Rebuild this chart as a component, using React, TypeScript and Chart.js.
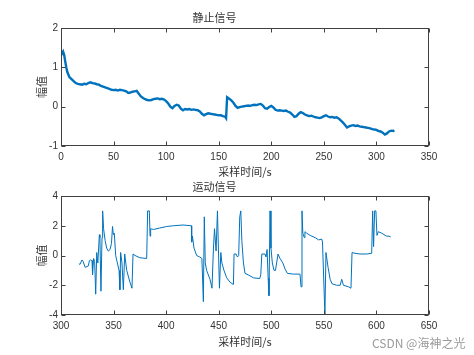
import React, { useEffect, useRef } from "react";
import { Chart, registerables } from "chart.js";

Chart.register(...registerables);

// ---------- data ----------
const staticX = [0,1,2,3,4,5,6,8,10,12,14,16,18,20,22,24,26,28,30,32,34,36,38,40,42,44,46,48,50,52,54,56,58,60,62,64,66,68,70,72,74,76,78,80,82,84,86,88,90,92,94,96,98,100,102,104,106,108,110,112,114,116,118,120,122,124,126,128,130,132,134,136,138,140,142,144,146,148,150,152,154,156,157,158,160,162,164,166,168,170,172,174,176,178,180,182,184,186,188,190,192,194,196,198,200,202,204,206,208,210,212,214,216,218,220,222,224,226,228,230,232,234,236,238,240,242,244,246,248,250,252,254,256,258,260,262,264,266,268,270,272,274,276,278,280,282,284,286,288,290,292,294,296,298,300,302,304,306,308,310,312,314,316,317];
const staticY = [1.30,1.35,1.40,1.32,1.15,1.00,0.88,0.75,0.70,0.65,0.60,0.58,0.57,0.56,0.58,0.57,0.60,0.62,0.60,0.59,0.57,0.56,0.53,0.51,0.49,0.47,0.45,0.43,0.42,0.43,0.41,0.43,0.42,0.41,0.39,0.35,0.36,0.38,0.39,0.40,0.33,0.26,0.22,0.19,0.17,0.16,0.17,0.19,0.20,0.21,0.19,0.20,0.18,0.14,0.08,0.00,-0.04,0.02,0.05,0.03,-0.05,-0.09,-0.06,-0.07,-0.06,-0.08,-0.07,-0.08,-0.09,-0.12,-0.18,-0.22,-0.19,-0.17,-0.18,-0.19,-0.20,-0.21,-0.22,-0.22,-0.24,-0.25,-0.29,0.24,0.20,0.16,0.10,0.02,-0.03,-0.01,0.00,0.01,0.02,0.03,0.02,0.04,0.05,0.04,0.06,0.07,0.03,-0.04,-0.05,-0.01,0.02,-0.02,-0.08,-0.10,-0.09,-0.10,-0.11,-0.10,-0.13,-0.15,-0.20,-0.26,-0.24,-0.18,-0.14,-0.16,-0.20,-0.22,-0.24,-0.23,-0.25,-0.27,-0.28,-0.29,-0.27,-0.24,-0.22,-0.25,-0.27,-0.26,-0.28,-0.27,-0.30,-0.35,-0.40,-0.46,-0.53,-0.50,-0.48,-0.47,-0.49,-0.48,-0.50,-0.51,-0.52,-0.53,-0.54,-0.55,-0.57,-0.58,-0.59,-0.62,-0.63,-0.66,-0.71,-0.68,-0.63,-0.61,-0.62,-0.60];

const motionX = [317,318,320,321,323,326,327,328,329.5,330,331,332,333,334,335,336.5,337,338,339,339.6,340.5,342,343.4,345,346.6,348,349,349.8,350.7,352,353.6,355.2,356,356.7,358,359.3,360.6,362.5,365.6,367.5,368.5,370.4,375,381.5,382.4,384,384.7,385.3,388,394,400.5,406.8,416,424,424.3,425,426.5,429,432,434,435.4,436.3,437.2,438.5,441.7,443.6,445,446,447.5,448.8,449.7,450.7,452,453,455,457.6,460.8,464,464.6,466.5,467.8,469,470,471,472,473.5,475,478,483,489,490,491,494,495,496,497,497.8,498.8,499.7,501,502.6,504,506.4,508.3,511,513,515.3,521,527.3,528.3,529.2,530,531.4,532,533.7,537,541.7,545,548,548.7,551,552,554,556,557.8,562,565.5,567,568.6,573.3,575.8,576.8,579.6,584.4,590.7,595.5,596.4,597.3,598.3,599.5,600.5,601.8,605,609.7,612,613.6];
const motionY = [-0.55,-0.6,-0.3,-0.4,-0.8,-0.7,-0.35,-0.3,-0.35,-1.3,-0.2,-0.4,-2.6,0.2,-0.5,1.4,1.2,-2.4,1.2,3.0,1.8,1.0,0.5,0.3,0.4,0.8,1.95,1.4,1.5,0.0,-0.5,-1.0,-2.3,0.2,-0.5,-2.3,0.1,-1.0,-1.8,-2.2,0.1,0.0,-0.15,-0.2,3.0,3.0,1.3,1.8,1.75,1.85,1.95,2.0,2.05,2.0,0.9,1.3,0.5,0.0,-0.1,-0.2,-3.1,2.6,-0.5,-1.0,-1.6,-2.2,0.5,1.8,0.3,3.0,0.5,-2.2,0.2,-0.5,-1.0,-1.5,-1.8,-1.95,0.1,0.1,-0.1,0.0,2.6,3.0,1.0,-0.5,-1.2,-1.3,-1.5,-1.55,-1.3,0.1,0.1,-0.1,0.4,-1.5,-2.7,3.0,0.5,-0.5,-1.0,-1.0,0.1,-0.2,-0.5,-0.9,-1.2,-1.25,-1.25,-2.1,3.0,1.5,1.2,1.6,1.5,1.35,1.2,1.05,1.1,0.9,-4.0,0.2,-0.8,-1.6,-1.9,-2.0,-2.0,-1.6,-2.0,-2.1,-2.2,0.2,0.15,0.1,0.1,0.15,3.0,0.6,3.0,3.0,1.35,1.6,1.5,1.3,1.3,1.25];

const staticTitle = "静止信号";
const motionTitle = "运动信号";
const xTitle = "采样时间/s";
const yTitle = "幅值";
const watermark = "CSDN @海神之光";

// ---------- styling ----------
const LINE_COLOR = "#0072BD";
const TEXT_COLOR = "#333333";
const AXIS_COLOR = "#404040";
const TICK_FONT = { family: "'Liberation Sans', Arial, sans-serif", size: 10 };
const CJK_FONT = { family: "'Noto Sans CJK SC', sans-serif", size: 11, weight: "normal" as const };

const matlabBox = {
  id: "matlabBox",
  afterDraw(chart: any) {
    const { ctx, chartArea: a, scales } = chart;
    ctx.save();
    ctx.strokeStyle = AXIS_COLOR;
    ctx.lineWidth = 1;
    const l = Math.round(a.left) + 0.5;
    const r = Math.round(a.right) - 0.5;
    const t = Math.round(a.top) + 0.5;
    const b = Math.round(a.bottom) - 0.5;
    ctx.strokeRect(l, t, r - l, b - t);
    const tl = 4;
    ctx.beginPath();
    scales.x.ticks.forEach((tk: any) => {
      const p = Math.round(scales.x.getPixelForValue(tk.value)) + 0.5;
      ctx.moveTo(p, b); ctx.lineTo(p, b - tl);
      ctx.moveTo(p, t); ctx.lineTo(p, t + tl);
    });
    scales.y.ticks.forEach((tk: any) => {
      const p = Math.round(scales.y.getPixelForValue(tk.value)) + 0.5;
      ctx.moveTo(l, p); ctx.lineTo(l + tl, p);
      ctx.moveTo(r, p); ctx.lineTo(r - tl, p);
    });
    ctx.stroke();
    ctx.restore();
  },
};

function makeConfig(o: {
  xs: number[]; ys: number[]; title: string; titleTop: number; titleBottom: number;
  xMin: number; xMax: number; yMin: number; yMax: number; yStep: number;
  xAxisH: number; lineW: number;
}): any {
  return {
    type: "line",
    data: {
      datasets: [{
        data: o.xs.map((x, i) => ({ x, y: o.ys[i] })),
        borderColor: LINE_COLOR,
        borderWidth: o.lineW,
        pointRadius: 0,
        tension: 0,
        fill: false,
      }],
    },
    options: {
      animation: false,
      responsive: false,
      events: [],
      layout: { padding: { left: 0, right: 45, top: 0, bottom: 0 } },
      plugins: {
        legend: { display: false },
        tooltip: { enabled: false },
        title: {
          display: true,
          text: o.title,
          color: TEXT_COLOR,
          font: CJK_FONT,
          padding: { top: o.titleTop, bottom: o.titleBottom },
        },
      },
      scales: {
        x: {
          type: "linear",
          min: o.xMin,
          max: o.xMax,
          ticks: { stepSize: 50, color: TEXT_COLOR, font: TICK_FONT, padding: 5, maxRotation: 0 },
          grid: { display: false, drawTicks: false },
          border: { display: false },
          title: { display: true, text: xTitle, color: TEXT_COLOR, font: CJK_FONT, padding: { top: 0, bottom: 0 } },
          afterFit: (s: any) => { s.height = o.xAxisH; },
        },
        y: {
          type: "linear",
          min: o.yMin,
          max: o.yMax,
          ticks: { stepSize: o.yStep, color: TEXT_COLOR, font: TICK_FONT, padding: 3 },
          grid: { display: false, drawTicks: false },
          border: { display: false },
          title: { display: true, text: yTitle, color: TEXT_COLOR, font: CJK_FONT, padding: { top: 35, bottom: 0 } },
          afterFit: (s: any) => { s.width = 61; },
        },
      },
    },
    plugins: [matlabBox],
  };
}

export default function App() {
  const topRef = useRef<HTMLCanvasElement>(null);
  const botRef = useRef<HTMLCanvasElement>(null);

  useEffect(() => {
    const c1 = new Chart(topRef.current!, makeConfig({
      xs: staticX, ys: staticY, title: staticTitle, titleTop: 11.4, titleBottom: 3.4,
      xMin: 0, xMax: 350, yMin: -1, yMax: 2, yStep: 1, xAxisH: 32, lineW: 2.4,
    }));
    const c2 = new Chart(botRef.current!, makeConfig({
      xs: motionX, ys: motionY, title: motionTitle, titleTop: 2.4, titleBottom: 2.4,
      xMin: 300, xMax: 650, yMin: -4, yMax: 4, yStep: 2, xAxisH: 33, lineW: 1,
    }));
    return () => { c1.destroy(); c2.destroy(); };
  }, []);

  return (
    <div style={{ position: "absolute", left: 0, top: 0, width: 474, height: 355, background: "#fff", overflow: "hidden" }}>
      <canvas ref={topRef} width={474} height={178} style={{ position: "absolute", left: 0, top: 0 }} />
      <canvas ref={botRef} width={474} height={170} style={{ position: "absolute", left: 0, top: 178 }} />
      <div style={{ position: "absolute", left: 372, top: 334, font: "12px 'Noto Sans CJK SC', sans-serif", color: "#9a9a9a", whiteSpace: "nowrap" }}>
        {watermark}
      </div>
    </div>
  );
}
